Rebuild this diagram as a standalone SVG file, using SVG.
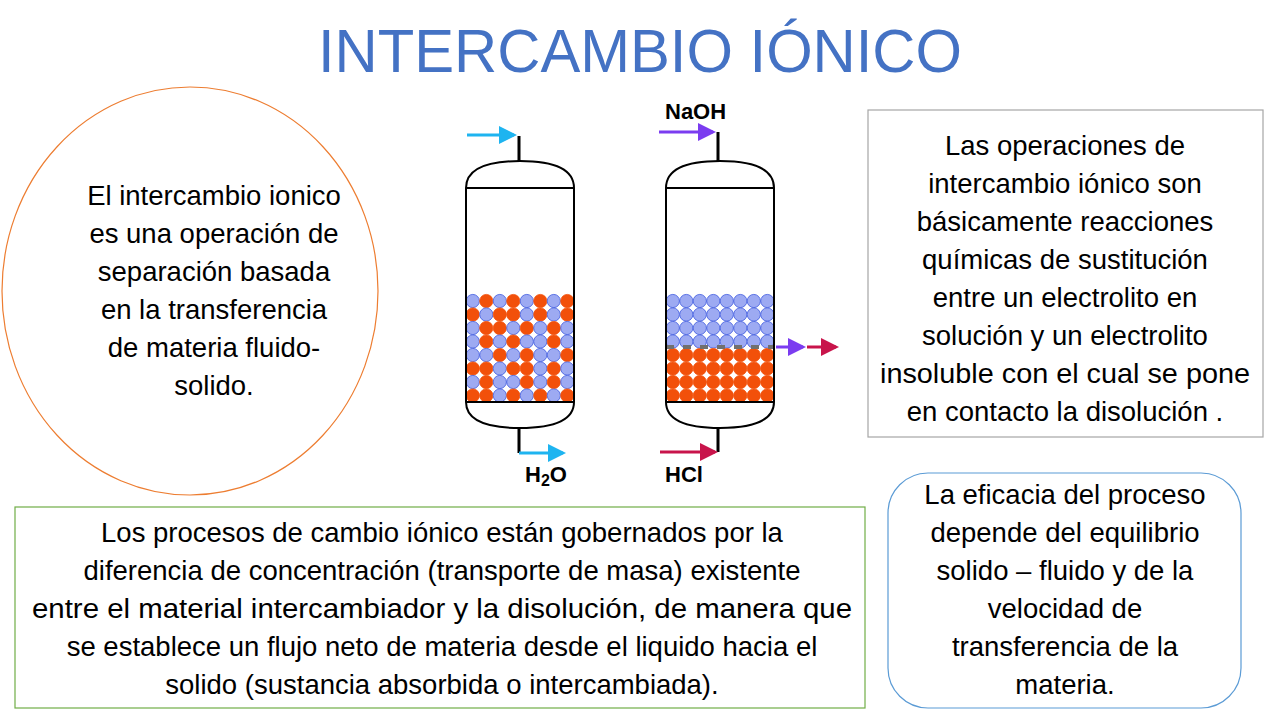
<svg xmlns="http://www.w3.org/2000/svg" width="1280" height="720" viewBox="0 0 1280 720">
<defs>
<style>
.t{font-family:"Liberation Sans",Arial,sans-serif;font-size:27.5px;fill:#000;text-anchor:middle}
.l{font-family:"Liberation Sans",Arial,sans-serif;font-size:22px;font-weight:bold;fill:#000}
.v{fill:none;stroke:#000;stroke-width:2}
.p{fill:none;stroke:#000;stroke-width:3}
.b{fill:#9DAAF2;stroke:#3F5BE0;stroke-width:0.8}
.o{fill:#F2500A;stroke:#F2500A;stroke-width:0.8}
</style>
<marker id="ac" markerWidth="6" markerHeight="6" refX="5" refY="3" orient="auto" markerUnits="strokeWidth"><path d="M0,0L6,3L0,6z" fill="#1EB4F0"/></marker>
<marker id="ap" markerWidth="6" markerHeight="6" refX="5" refY="3" orient="auto" markerUnits="strokeWidth"><path d="M0,0L6,3L0,6z" fill="#7B3CF0"/></marker>
<marker id="ar" markerWidth="6" markerHeight="6" refX="5" refY="3" orient="auto" markerUnits="strokeWidth"><path d="M0,0L6,3L0,6z" fill="#C8144B"/></marker>
</defs>
<rect width="1280" height="720" fill="#fff"/>
<text x="640" y="72" font-family="Liberation Sans,Arial,sans-serif" font-size="62" fill="#4472C4" text-anchor="middle" textLength="644" lengthAdjust="spacingAndGlyphs">INTERCAMBIO IÓNICO</text>

<g id="circle">
<ellipse cx="190" cy="291" rx="188" ry="204" fill="none" stroke="#ED7D31" stroke-width="1.2"/>
<text class="t"><tspan x="214" y="205">El intercambio ionico</tspan><tspan x="214" y="243">es una operación de</tspan><tspan x="214" y="281">separación basada</tspan><tspan x="214" y="319">en la transferencia</tspan><tspan x="214" y="357">de materia fluido-</tspan><tspan x="214" y="395">solido.</tspan></text>
</g>

<g id="box-right">
<rect x="868" y="110" width="395" height="327" fill="none" stroke="#A6A6A6" stroke-width="1.2"/>
<text class="t"><tspan x="1065" y="155">Las operaciones de</tspan><tspan x="1065" y="193">intercambio iónico son</tspan><tspan x="1065" y="231">básicamente reacciones</tspan><tspan x="1065" y="269">químicas de sustitución</tspan><tspan x="1065" y="307">entre un electrolito en</tspan><tspan x="1065" y="345">solución y un electrolito</tspan><tspan x="1065" y="383" textLength="370" lengthAdjust="spacingAndGlyphs">insoluble con el cual se pone</tspan><tspan x="1065" y="421">en contacto la disolución .</tspan></text>
</g>

<g id="box-bottom">
<rect x="15" y="507" width="850" height="201" fill="none" stroke="#70AD47" stroke-width="1.2"/>
<text class="t"><tspan x="442" y="542">Los procesos de cambio iónico están gobernados por la</tspan><tspan x="442" y="580">diferencia de concentración (transporte de masa) existente</tspan><tspan x="442" y="618" textLength="820" lengthAdjust="spacingAndGlyphs">entre el material intercambiador y la disolución, de manera que</tspan><tspan x="442" y="656">se establece un flujo neto de materia desde el liquido hacia el</tspan><tspan x="442" y="694">solido (sustancia absorbida o intercambiada).</tspan></text>
</g>

<g id="box-round">
<rect x="888" y="473" width="353" height="235" rx="40" fill="none" stroke="#5B9BD5" stroke-width="1.2"/>
<text class="t"><tspan x="1065" y="504">La eficacia del proceso</tspan><tspan x="1065" y="542">depende del equilibrio</tspan><tspan x="1065" y="580">solido – fluido y de la</tspan><tspan x="1065" y="618">velocidad de</tspan><tspan x="1065" y="656">transferencia de la</tspan><tspan x="1065" y="694">materia.</tspan></text>
</g>

<g id="column-left">
<g id="beadsL">
<circle class="b" cx="472.8" cy="301" r="6.6"/><circle class="o" cx="486.3" cy="301" r="6.6"/><circle class="b" cx="499.8" cy="301" r="6.6"/><circle class="o" cx="513.3" cy="301" r="6.6"/><circle class="b" cx="526.8" cy="301" r="6.6"/><circle class="o" cx="540.3" cy="301" r="6.6"/><circle class="b" cx="553.8" cy="301" r="6.6"/><circle class="o" cx="567.3" cy="301" r="6.6"/>
<circle class="o" cx="472.8" cy="314.5" r="6.6"/><circle class="b" cx="486.3" cy="314.5" r="6.6"/><circle class="o" cx="499.8" cy="314.5" r="6.6"/><circle class="o" cx="513.3" cy="314.5" r="6.6"/><circle class="b" cx="526.8" cy="314.5" r="6.6"/><circle class="o" cx="540.3" cy="314.5" r="6.6"/><circle class="b" cx="553.8" cy="314.5" r="6.6"/><circle class="o" cx="567.3" cy="314.5" r="6.6"/>
<circle class="b" cx="472.8" cy="328" r="6.6"/><circle class="o" cx="486.3" cy="328" r="6.6"/><circle class="o" cx="499.8" cy="328" r="6.6"/><circle class="b" cx="513.3" cy="328" r="6.6"/><circle class="o" cx="526.8" cy="328" r="6.6"/><circle class="b" cx="540.3" cy="328" r="6.6"/><circle class="o" cx="553.8" cy="328" r="6.6"/><circle class="b" cx="567.3" cy="328" r="6.6"/>
<circle class="b" cx="472.8" cy="341.5" r="6.6"/><circle class="o" cx="486.3" cy="341.5" r="6.6"/><circle class="b" cx="499.8" cy="341.5" r="6.6"/><circle class="o" cx="513.3" cy="341.5" r="6.6"/><circle class="b" cx="526.8" cy="341.5" r="6.6"/><circle class="b" cx="540.3" cy="341.5" r="6.6"/><circle class="o" cx="553.8" cy="341.5" r="6.6"/><circle class="b" cx="567.3" cy="341.5" r="6.6"/>
<circle class="b" cx="472.8" cy="355" r="6.6"/><circle class="b" cx="486.3" cy="355" r="6.6"/><circle class="o" cx="499.8" cy="355" r="6.6"/><circle class="b" cx="513.3" cy="355" r="6.6"/><circle class="o" cx="526.8" cy="355" r="6.6"/><circle class="b" cx="540.3" cy="355" r="6.6"/><circle class="b" cx="553.8" cy="355" r="6.6"/><circle class="o" cx="567.3" cy="355" r="6.6"/>
<circle class="o" cx="472.8" cy="368.5" r="6.6"/><circle class="o" cx="486.3" cy="368.5" r="6.6"/><circle class="b" cx="499.8" cy="368.5" r="6.6"/><circle class="o" cx="513.3" cy="368.5" r="6.6"/><circle class="o" cx="526.8" cy="368.5" r="6.6"/><circle class="b" cx="540.3" cy="368.5" r="6.6"/><circle class="o" cx="553.8" cy="368.5" r="6.6"/><circle class="b" cx="567.3" cy="368.5" r="6.6"/>
<circle class="b" cx="472.8" cy="382" r="6.6"/><circle class="o" cx="486.3" cy="382" r="6.6"/><circle class="b" cx="499.8" cy="382" r="6.6"/><circle class="b" cx="513.3" cy="382" r="6.6"/><circle class="o" cx="526.8" cy="382" r="6.6"/><circle class="b" cx="540.3" cy="382" r="6.6"/><circle class="o" cx="553.8" cy="382" r="6.6"/><circle class="b" cx="567.3" cy="382" r="6.6"/>
<circle class="o" cx="472.8" cy="395.5" r="6.6"/><circle class="o" cx="486.3" cy="395.5" r="6.6"/><circle class="b" cx="499.8" cy="395.5" r="6.6"/><circle class="o" cx="513.3" cy="395.5" r="6.6"/><circle class="b" cx="526.8" cy="395.5" r="6.6"/><circle class="o" cx="540.3" cy="395.5" r="6.6"/><circle class="b" cx="553.8" cy="395.5" r="6.6"/><circle class="o" cx="567.3" cy="395.5" r="6.6"/>
</g>
<path class="v" d="M466,188 Q466,161 520,161 Q574,161 574,188 L574,402 Q574,428 520,428 Q466,428 466,402 Z M466,188 H574 M466,402 H574"/>
<path class="p" d="M519,161 V136 M519,428 V453"/>
</g>

<g id="column-right">
<g id="beadsR">
<g class="b">
<circle cx="672.8" cy="301" r="6.6"/><circle cx="686.3" cy="301" r="6.6"/><circle cx="699.8" cy="301" r="6.6"/><circle cx="713.3" cy="301" r="6.6"/><circle cx="726.8" cy="301" r="6.6"/><circle cx="740.3" cy="301" r="6.6"/><circle cx="753.8" cy="301" r="6.6"/><circle cx="767.3" cy="301" r="6.6"/>
<circle cx="672.8" cy="314.5" r="6.6"/><circle cx="686.3" cy="314.5" r="6.6"/><circle cx="699.8" cy="314.5" r="6.6"/><circle cx="713.3" cy="314.5" r="6.6"/><circle cx="726.8" cy="314.5" r="6.6"/><circle cx="740.3" cy="314.5" r="6.6"/><circle cx="753.8" cy="314.5" r="6.6"/><circle cx="767.3" cy="314.5" r="6.6"/>
<circle cx="672.8" cy="328" r="6.6"/><circle cx="686.3" cy="328" r="6.6"/><circle cx="699.8" cy="328" r="6.6"/><circle cx="713.3" cy="328" r="6.6"/><circle cx="726.8" cy="328" r="6.6"/><circle cx="740.3" cy="328" r="6.6"/><circle cx="753.8" cy="328" r="6.6"/><circle cx="767.3" cy="328" r="6.6"/>
<circle cx="672.8" cy="341.5" r="6.6"/><circle cx="686.3" cy="341.5" r="6.6"/><circle cx="699.8" cy="341.5" r="6.6"/><circle cx="713.3" cy="341.5" r="6.6"/><circle cx="726.8" cy="341.5" r="6.6"/><circle cx="740.3" cy="341.5" r="6.6"/><circle cx="753.8" cy="341.5" r="6.6"/><circle cx="767.3" cy="341.5" r="6.6"/>
</g>
<g class="o">
<circle cx="672.8" cy="355" r="6.6"/><circle cx="686.3" cy="355" r="6.6"/><circle cx="699.8" cy="355" r="6.6"/><circle cx="713.3" cy="355" r="6.6"/><circle cx="726.8" cy="355" r="6.6"/><circle cx="740.3" cy="355" r="6.6"/><circle cx="753.8" cy="355" r="6.6"/><circle cx="767.3" cy="355" r="6.6"/>
<circle cx="672.8" cy="368.5" r="6.6"/><circle cx="686.3" cy="368.5" r="6.6"/><circle cx="699.8" cy="368.5" r="6.6"/><circle cx="713.3" cy="368.5" r="6.6"/><circle cx="726.8" cy="368.5" r="6.6"/><circle cx="740.3" cy="368.5" r="6.6"/><circle cx="753.8" cy="368.5" r="6.6"/><circle cx="767.3" cy="368.5" r="6.6"/>
<circle cx="672.8" cy="382" r="6.6"/><circle cx="686.3" cy="382" r="6.6"/><circle cx="699.8" cy="382" r="6.6"/><circle cx="713.3" cy="382" r="6.6"/><circle cx="726.8" cy="382" r="6.6"/><circle cx="740.3" cy="382" r="6.6"/><circle cx="753.8" cy="382" r="6.6"/><circle cx="767.3" cy="382" r="6.6"/>
<circle cx="672.8" cy="395.5" r="6.6"/><circle cx="686.3" cy="395.5" r="6.6"/><circle cx="699.8" cy="395.5" r="6.6"/><circle cx="713.3" cy="395.5" r="6.6"/><circle cx="726.8" cy="395.5" r="6.6"/><circle cx="740.3" cy="395.5" r="6.6"/><circle cx="753.8" cy="395.5" r="6.6"/><circle cx="767.3" cy="395.5" r="6.6"/>
</g>
</g>
<line x1="666" y1="347" x2="774" y2="347" stroke="#707070" stroke-width="4" stroke-dasharray="8,9"/>
<path class="v" d="M666,188 Q666,161 720,161 Q774,161 774,188 L774,402 Q774,428 720,428 Q666,428 666,402 Z M666,188 H774 M666,402 H774"/>
<path class="p" d="M718,161 V132 M718,428 V452"/>
</g>

<g id="connectors">
<line x1="467" y1="135" x2="514" y2="135" stroke="#1EB4F0" stroke-width="3" marker-end="url(#ac)"/>
<line x1="519" y1="453" x2="563" y2="453" stroke="#1EB4F0" stroke-width="3" marker-end="url(#ac)"/>
<line x1="659" y1="132" x2="713" y2="132" stroke="#7B3CF0" stroke-width="3" marker-end="url(#ap)"/>
<line x1="660" y1="452" x2="715" y2="452" stroke="#C8144B" stroke-width="3" marker-end="url(#ar)"/>
<line x1="776" y1="347" x2="803" y2="347" stroke="#7B3CF0" stroke-width="3" marker-end="url(#ap)"/>
<line x1="807" y1="347" x2="836" y2="347" stroke="#C8144B" stroke-width="3" marker-end="url(#ar)"/>
</g>

<text class="l" x="665" y="119">NaOH</text>
<text class="l" x="525" y="482">H<tspan font-size="16" dy="4">2</tspan><tspan dy="-4">O</tspan></text>
<text class="l" x="665" y="482">HCl</text>
</svg>
